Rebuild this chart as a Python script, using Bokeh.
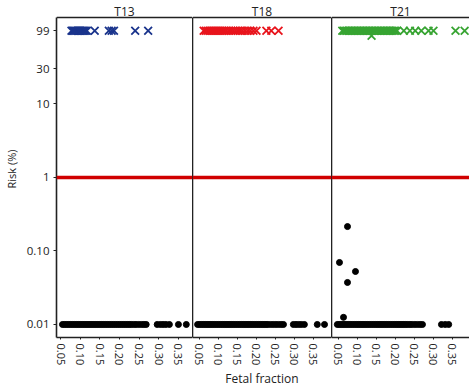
from bokeh.plotting import figure
from bokeh.layouts import row
from bokeh.models import Span, Label, FixedTicker, NumeralTickFormatter
from bokeh.embed import file_html
from bokeh.resources import INLINE

# ---------------- data ----------------
panels = ["T13", "T18", "T21"]

# positive cases (risk 99 %)
t13_pos_x = [0.078, 0.081, 0.084, 0.087, 0.090, 0.093, 0.096, 0.099, 0.102, 0.105,
             0.108, 0.111, 0.114, 0.117, 0.137, 0.173, 0.180, 0.186, 0.240, 0.273]
t13_pos_y = [99] * len(t13_pos_x)

t18_pos_x = [0.061, 0.066, 0.071, 0.076, 0.081, 0.086, 0.091, 0.096, 0.101, 0.106,
             0.111, 0.116, 0.121, 0.127, 0.133, 0.139, 0.145, 0.151, 0.157, 0.163,
             0.170, 0.177, 0.184, 0.192, 0.200, 0.226, 0.239, 0.258]
t18_pos_y = [99] * len(t18_pos_x)

t21_pos_x = [0.060, 0.064, 0.068, 0.072, 0.076, 0.080, 0.084, 0.088, 0.092, 0.096,
             0.100, 0.104, 0.108, 0.112, 0.116, 0.120, 0.124, 0.128, 0.132, 0.136,
             0.140, 0.144, 0.148, 0.152, 0.156, 0.160, 0.164, 0.168, 0.172, 0.176,
             0.180, 0.184, 0.188, 0.192, 0.196, 0.200, 0.204, 0.222, 0.238, 0.252,
             0.268, 0.287, 0.300, 0.358, 0.382, 0.137]
t21_pos_y = [99] * 45 + [85]

# negative cases
t13_neg_x = [0.055, 0.060, 0.065, 0.070, 0.075, 0.080, 0.085, 0.090, 0.095, 0.100,
             0.105, 0.110, 0.115, 0.120, 0.125, 0.130, 0.135, 0.140, 0.145, 0.150,
             0.155, 0.160, 0.165, 0.170, 0.175, 0.180, 0.185, 0.190, 0.195, 0.200,
             0.205, 0.210, 0.215, 0.220, 0.225, 0.230, 0.236, 0.242, 0.249, 0.256,
             0.262, 0.268, 0.296, 0.304, 0.311, 0.318, 0.327, 0.350, 0.370]
t13_neg_y = [0.01] * len(t13_neg_x)

t18_neg_x = [0.045, 0.050, 0.055, 0.060, 0.065, 0.070, 0.075, 0.080, 0.085, 0.090,
             0.095, 0.100, 0.105, 0.110, 0.115, 0.120, 0.125, 0.130, 0.135, 0.140,
             0.145, 0.150, 0.155, 0.160, 0.165, 0.170, 0.175, 0.180, 0.185, 0.190,
             0.195, 0.200, 0.205, 0.210, 0.215, 0.220, 0.225, 0.230, 0.237, 0.244,
             0.251, 0.258, 0.265, 0.271, 0.297, 0.304, 0.311, 0.318, 0.326, 0.360,
             0.379]
t18_neg_y = [0.01] * len(t18_neg_x)

t21_neg_x = [0.047, 0.052, 0.057, 0.062, 0.067, 0.072, 0.077, 0.082, 0.087, 0.092,
             0.097, 0.102, 0.107, 0.112, 0.117, 0.122, 0.127, 0.132, 0.137, 0.142,
             0.147, 0.152, 0.157, 0.162, 0.167, 0.172, 0.177, 0.182, 0.187, 0.192,
             0.197, 0.202, 0.207, 0.212, 0.217, 0.222, 0.227, 0.232, 0.238, 0.244,
             0.251, 0.258, 0.265, 0.271, 0.321, 0.331, 0.340,
             0.0526, 0.0632, 0.0737, 0.0737, 0.0947]
t21_neg_y = [0.01] * 47 + [0.0698, 0.0125, 0.215, 0.0373, 0.0526]

pos_x = [t13_pos_x, t18_pos_x, t21_pos_x]
pos_y = [t13_pos_y, t18_pos_y, t21_pos_y]
neg_x = [t13_neg_x, t18_neg_x, t21_neg_x]
neg_y = [t13_neg_y, t18_neg_y, t21_neg_y]
pos_colors = ["#1a348c", "#e8141c", "#37a432"]

x_ticks = [0.05, 0.10, 0.15, 0.20, 0.25, 0.30, 0.35]
y_ticks = [0.01, 0.1, 1, 10, 30, 99]
y_tick_labels = ["0.01", "0.10", "1", "10", "30", "99"]
threshold = 1

# ---------------- layout / style ----------------
Y_START, Y_END = 0.00665, 256
TOP_LINE = 150
x_ranges = [(0.0398, 0.3858), (0.0316, 0.3974), (0.0316, 0.3948)]
frame_widths = [136, 139, 138]
FONT = "Open Sans"
AX = "#222222"

figs = []
for i, name in enumerate(panels):
    first = i == 0
    p = figure(frame_width=frame_widths[i], frame_height=337,
               x_range=x_ranges[i], y_range=(Y_START, Y_END), y_axis_type="log",
               output_backend="svg", toolbar_location=None, title=None,
               min_border_left=47 if first else 0, min_border_right=0,
               min_border_top=0, min_border_bottom=0)
    p.outline_line_color = None
    p.xgrid.visible = False
    p.ygrid.visible = False
    p.background_fill_color = "white"

    # x axis
    xa = p.xaxis[0]
    xa.ticker = FixedTicker(ticks=x_ticks)
    xa.formatter = NumeralTickFormatter(format="0.00")
    xa.major_label_orientation = "vertical"
    xa.major_label_text_font = FONT
    xa.major_label_text_font_size = "11px"
    xa.major_label_text_color = AX
    xa.major_tick_out = 2
    xa.major_tick_in = 0
    xa.minor_tick_line_color = None
    xa.major_label_standoff = 4
    xa.axis_line_color = AX
    xa.axis_line_width = 1.6
    xa.major_tick_line_color = AX
    if i == 1:
        xa.axis_label = "Fetal fraction"
        xa.axis_label_text_font = FONT
        xa.axis_label_text_font_size = "12px"
        xa.axis_label_text_font_style = "normal"
        xa.axis_label_text_color = AX
        xa.axis_label_standoff = 2

    # y axis
    ya = p.yaxis[0]
    ya.bounds = (Y_START, TOP_LINE)
    ya.axis_line_color = AX
    ya.axis_line_width = 1.6
    ya.minor_tick_line_color = None
    ya.minor_tick_out = 0
    ya.minor_tick_in = 0
    if first:
        ya.ticker = FixedTicker(ticks=y_ticks)
        ya.major_label_overrides = {t: s for t, s in zip(y_ticks, y_tick_labels)}
        ya.major_label_text_font = FONT
        ya.major_label_text_font_size = "11.5px"
        ya.major_label_text_color = AX
        ya.major_tick_out = 3
        ya.major_tick_in = 0
        ya.major_tick_line_color = AX
        ya.major_label_standoff = 4
        ya.axis_label = "Risk (%)"
        ya.axis_label_text_font = FONT
        ya.axis_label_text_font_size = "11px"
        ya.axis_label_text_font_style = "normal"
        ya.axis_label_text_color = AX
        ya.axis_label_standoff = 5
    else:
        ya.ticker = FixedTicker(ticks=[])
        ya.major_label_text_font_size = "0px"
        ya.major_tick_out = 0
        ya.major_tick_in = 0
        ya.major_tick_line_color = None
        ya.major_label_standoff = 0

    # top border line and threshold line
    p.add_layout(Span(location=TOP_LINE, dimension="width", line_color=AX, line_width=1.6))
    p.add_layout(Span(location=threshold, dimension="width", line_color="#d00000", line_width=3.5))

    # panel title
    p.add_layout(Label(x=(x_ranges[i][0] + x_ranges[i][1]) / 2, y=Y_END, text=name,
                       text_align="center", text_baseline="top", y_offset=-2,
                       text_font=FONT, text_font_size="12px", text_color="#222222"))

    # data
    p.scatter(neg_x[i], neg_y[i], marker="circle", size=6, color="black")
    p.scatter(pos_x[i], pos_y[i], marker="x", size=11, line_width=1.8,
              line_color=pos_colors[i])
    figs.append(p)

layout = row(*figs)
open("out.html", "w").write(file_html(layout, INLINE))
